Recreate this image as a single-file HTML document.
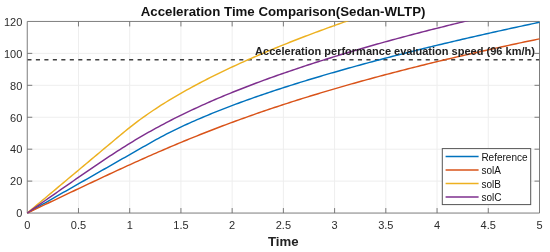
<!DOCTYPE html>
<html><head><meta charset="utf-8"><title>Acceleration Time Comparison</title>
<style>html,body{margin:0;padding:0;background:#fff;}body{width:550px;height:252px;overflow:hidden;}svg{display:block;}text{font-family:"Liberation Sans", Arial, Helvetica, sans-serif;}</style></head><body>
<svg width="550" height="252" viewBox="0 0 550 252">
<rect x="0" y="0" width="550" height="252" fill="#ffffff"/>
<path d="M78.47 21.45 V213.05 M129.70 21.45 V213.05 M180.93 21.45 V213.05 M232.15 21.45 V213.05 M283.38 21.45 V213.05 M334.60 21.45 V213.05 M385.82 21.45 V213.05 M437.05 21.45 V213.05 M488.27 21.45 V213.05 M27.25 181.12 H539.50 M27.25 149.18 H539.50 M27.25 117.25 H539.50 M27.25 85.32 H539.50 M27.25 53.38 H539.50" stroke="#eeeeee" stroke-width="1" fill="none"/>
<defs><clipPath id="c"><rect x="26.95" y="21.30" width="513.15" height="192.35"/></clipPath></defs>
<path d="M27.40 59.77 H539.50" stroke="#404040" stroke-width="1.35" stroke-dasharray="4.1 4.375" fill="none"/>
<path d="M27.25 21.45 H539.50 V213.05 H27.25 Z M78.47 213.05 v-5.00 M78.47 21.45 v5.00 M129.70 213.05 v-5.00 M129.70 21.45 v5.00 M180.93 213.05 v-5.00 M180.93 21.45 v5.00 M232.15 213.05 v-5.00 M232.15 21.45 v5.00 M283.38 213.05 v-5.00 M283.38 21.45 v5.00 M334.60 213.05 v-5.00 M334.60 21.45 v5.00 M385.82 213.05 v-5.00 M385.82 21.45 v5.00 M437.05 213.05 v-5.00 M437.05 21.45 v5.00 M488.27 213.05 v-5.00 M488.27 21.45 v5.00 M27.25 181.12 h5.00 M539.50 181.12 h-5.00 M27.25 149.18 h5.00 M539.50 149.18 h-5.00 M27.25 117.25 h5.00 M539.50 117.25 h-5.00 M27.25 85.32 h5.00 M539.50 85.32 h-5.00 M27.25 53.38 h5.00 M539.50 53.38 h-5.00" stroke="#6e6e6e" stroke-width="0.9" fill="none"/>
<g clip-path="url(#c)" fill="none" stroke-width="1.45" stroke-linejoin="round">
<path d="M27.25 213.05 L29.82 211.58 L32.40 210.11 L34.97 208.64 L37.55 207.18 L40.12 205.71 L42.69 204.24 L45.27 202.77 L47.84 201.30 L50.42 199.83 L52.99 198.37 L55.57 196.90 L58.14 195.43 L60.71 193.96 L63.29 192.49 L65.86 191.02 L68.44 189.56 L71.01 188.09 L73.58 186.62 L76.16 185.15 L78.73 183.68 L81.31 182.21 L83.88 180.75 L86.45 179.28 L89.03 177.81 L91.60 176.34 L94.18 174.87 L96.75 173.41 L99.33 171.94 L101.90 170.47 L104.47 169.00 L107.05 167.53 L109.62 166.06 L112.20 164.60 L114.77 163.13 L117.34 161.66 L119.92 160.19 L122.49 158.72 L125.07 157.26 L127.64 155.79 L130.21 154.32 L132.79 152.85 L135.36 151.38 L137.94 149.92 L140.51 148.45 L143.09 146.98 L145.66 145.51 L148.23 144.05 L150.81 142.59 L153.38 141.14 L155.96 139.71 L158.53 138.30 L161.10 136.91 L163.68 135.55 L166.25 134.22 L168.83 132.90 L171.40 131.61 L173.97 130.34 L176.55 129.09 L179.12 127.85 L181.70 126.63 L184.27 125.43 L186.85 124.25 L189.42 123.08 L191.99 121.93 L194.57 120.79 L197.14 119.67 L199.72 118.55 L202.29 117.46 L204.86 116.37 L207.44 115.30 L210.01 114.23 L212.59 113.18 L215.16 112.14 L217.73 111.12 L220.31 110.10 L222.88 109.09 L225.46 108.09 L228.03 107.10 L230.61 106.12 L233.18 105.15 L235.75 104.18 L238.33 103.23 L240.90 102.28 L243.48 101.35 L246.05 100.42 L248.62 99.49 L251.20 98.58 L253.77 97.67 L256.35 96.77 L258.92 95.88 L261.49 94.99 L264.07 94.11 L266.64 93.24 L269.22 92.37 L271.79 91.51 L274.37 90.65 L276.94 89.80 L279.51 88.96 L282.09 88.12 L284.66 87.29 L287.24 86.47 L289.81 85.64 L292.38 84.83 L294.96 84.02 L297.53 83.21 L300.11 82.41 L302.68 81.62 L305.26 80.83 L307.83 80.04 L310.40 79.26 L312.98 78.48 L315.55 77.71 L318.13 76.94 L320.70 76.18 L323.27 75.42 L325.85 74.67 L328.42 73.91 L331.00 73.17 L333.57 72.43 L336.14 71.69 L338.72 70.95 L341.29 70.22 L343.87 69.49 L346.44 68.77 L349.02 68.05 L351.59 67.33 L354.16 66.62 L356.74 65.91 L359.31 65.20 L361.89 64.50 L364.46 63.80 L367.03 63.11 L369.61 62.41 L372.18 61.73 L374.76 61.04 L377.33 60.36 L379.90 59.68 L382.48 59.00 L385.05 58.32 L387.63 57.65 L390.20 56.99 L392.78 56.32 L395.35 55.66 L397.92 55.00 L400.50 54.34 L403.07 53.69 L405.65 53.04 L408.22 52.39 L410.79 51.74 L413.37 51.10 L415.94 50.46 L418.52 49.82 L421.09 49.18 L423.66 48.55 L426.24 47.92 L428.81 47.29 L431.39 46.66 L433.96 46.04 L436.54 45.42 L439.11 44.80 L441.68 44.18 L444.26 43.57 L446.83 42.96 L449.41 42.35 L451.98 41.74 L454.55 41.14 L457.13 40.53 L459.70 39.93 L462.28 39.33 L464.85 38.74 L467.42 38.14 L470.00 37.55 L472.57 36.96 L475.15 36.37 L477.72 35.78 L480.30 35.20 L482.87 34.61 L485.44 34.03 L488.02 33.45 L490.59 32.88 L493.17 32.30 L495.74 31.73 L498.31 31.16 L500.89 30.59 L503.46 30.02 L506.04 29.45 L508.61 28.89 L511.18 28.33 L513.76 27.77 L516.33 27.21 L518.91 26.65 L521.48 26.09 L524.06 25.54 L526.63 24.99 L529.20 24.44 L531.78 23.89 L534.35 23.34 L536.93 22.79 L539.50 22.25" stroke="#0072BD"/>
<path d="M27.25 213.05 L29.82 211.82 L32.40 210.60 L34.97 209.37 L37.55 208.14 L40.12 206.92 L42.69 205.69 L45.27 204.46 L47.84 203.24 L50.42 202.01 L52.99 200.79 L55.57 199.56 L58.14 198.34 L60.71 197.11 L63.29 195.89 L65.86 194.66 L68.44 193.44 L71.01 192.22 L73.58 190.99 L76.16 189.77 L78.73 188.55 L81.31 187.33 L83.88 186.11 L86.45 184.90 L89.03 183.68 L91.60 182.47 L94.18 181.26 L96.75 180.05 L99.33 178.84 L101.90 177.63 L104.47 176.43 L107.05 175.22 L109.62 174.02 L112.20 172.83 L114.77 171.63 L117.34 170.44 L119.92 169.26 L122.49 168.07 L125.07 166.89 L127.64 165.71 L130.21 164.54 L132.79 163.37 L135.36 162.21 L137.94 161.05 L140.51 159.89 L143.09 158.74 L145.66 157.59 L148.23 156.45 L150.81 155.31 L153.38 154.18 L155.96 153.05 L158.53 151.93 L161.10 150.82 L163.68 149.71 L166.25 148.60 L168.83 147.50 L171.40 146.41 L173.97 145.32 L176.55 144.24 L179.12 143.16 L181.70 142.09 L184.27 141.03 L186.85 139.97 L189.42 138.92 L191.99 137.87 L194.57 136.83 L197.14 135.80 L199.72 134.77 L202.29 133.75 L204.86 132.73 L207.44 131.73 L210.01 130.72 L212.59 129.73 L215.16 128.74 L217.73 127.75 L220.31 126.77 L222.88 125.80 L225.46 124.83 L228.03 123.87 L230.61 122.92 L233.18 121.97 L235.75 121.03 L238.33 120.09 L240.90 119.16 L243.48 118.23 L246.05 117.31 L248.62 116.40 L251.20 115.49 L253.77 114.59 L256.35 113.69 L258.92 112.80 L261.49 111.91 L264.07 111.03 L266.64 110.16 L269.22 109.29 L271.79 108.42 L274.37 107.56 L276.94 106.71 L279.51 105.86 L282.09 105.01 L284.66 104.17 L287.24 103.34 L289.81 102.51 L292.38 101.68 L294.96 100.86 L297.53 100.05 L300.11 99.24 L302.68 98.43 L305.26 97.63 L307.83 96.83 L310.40 96.04 L312.98 95.25 L315.55 94.47 L318.13 93.69 L320.70 92.91 L323.27 92.14 L325.85 91.37 L328.42 90.61 L331.00 89.85 L333.57 89.10 L336.14 88.34 L338.72 87.60 L341.29 86.85 L343.87 86.12 L346.44 85.38 L349.02 84.65 L351.59 83.92 L354.16 83.20 L356.74 82.48 L359.31 81.76 L361.89 81.05 L364.46 80.34 L367.03 79.63 L369.61 78.93 L372.18 78.23 L374.76 77.54 L377.33 76.84 L379.90 76.16 L382.48 75.47 L385.05 74.79 L387.63 74.11 L390.20 73.43 L392.78 72.76 L395.35 72.09 L397.92 71.43 L400.50 70.76 L403.07 70.10 L405.65 69.45 L408.22 68.79 L410.79 68.14 L413.37 67.49 L415.94 66.85 L418.52 66.20 L421.09 65.57 L423.66 64.93 L426.24 64.30 L428.81 63.66 L431.39 63.04 L433.96 62.41 L436.54 61.79 L439.11 61.17 L441.68 60.55 L444.26 59.94 L446.83 59.32 L449.41 58.71 L451.98 58.11 L454.55 57.50 L457.13 56.90 L459.70 56.30 L462.28 55.70 L464.85 55.11 L467.42 54.52 L470.00 53.93 L472.57 53.34 L475.15 52.76 L477.72 52.17 L480.30 51.59 L482.87 51.02 L485.44 50.44 L488.02 49.87 L490.59 49.30 L493.17 48.73 L495.74 48.16 L498.31 47.60 L500.89 47.04 L503.46 46.48 L506.04 45.92 L508.61 45.36 L511.18 44.81 L513.76 44.26 L516.33 43.71 L518.91 43.16 L521.48 42.61 L524.06 42.07 L526.63 41.53 L529.20 40.99 L531.78 40.45 L534.35 39.92 L536.93 39.39 L539.50 38.85" stroke="#D95319"/>
<path d="M27.25 213.05 L29.82 210.89 L32.40 208.74 L34.97 206.58 L37.55 204.43 L40.12 202.27 L42.69 200.11 L45.27 197.96 L47.84 195.80 L50.42 193.65 L52.99 191.49 L55.57 189.33 L58.14 187.18 L60.71 185.02 L63.29 182.87 L65.86 180.71 L68.44 178.56 L71.01 176.40 L73.58 174.25 L76.16 172.09 L78.73 169.94 L81.31 167.78 L83.88 165.63 L86.45 163.47 L89.03 161.32 L91.60 159.17 L94.18 157.01 L96.75 154.86 L99.33 152.70 L101.90 150.55 L104.47 148.40 L107.05 146.25 L109.62 144.09 L112.20 141.94 L114.77 139.79 L117.34 137.64 L119.92 135.50 L122.49 133.37 L125.07 131.25 L127.64 129.16 L130.21 127.10 L132.79 125.08 L135.36 123.10 L137.94 121.15 L140.51 119.25 L143.09 117.38 L145.66 115.55 L148.23 113.76 L150.81 111.99 L153.38 110.26 L155.96 108.56 L158.53 106.88 L161.10 105.23 L163.68 103.60 L166.25 102.00 L168.83 100.42 L171.40 98.87 L173.97 97.33 L176.55 95.82 L179.12 94.33 L181.70 92.85 L184.27 91.39 L186.85 89.95 L189.42 88.53 L191.99 87.13 L194.57 85.74 L197.14 84.36 L199.72 83.00 L202.29 81.66 L204.86 80.32 L207.44 79.01 L210.01 77.70 L212.59 76.41 L215.16 75.13 L217.73 73.86 L220.31 72.61 L222.88 71.36 L225.46 70.13 L228.03 68.91 L230.61 67.70 L233.18 66.50 L235.75 65.31 L238.33 64.13 L240.90 62.96 L243.48 61.79 L246.05 60.64 L248.62 59.50 L251.20 58.36 L253.77 57.24 L256.35 56.12 L258.92 55.01 L261.49 53.91 L264.07 52.82 L266.64 51.73 L269.22 50.65 L271.79 49.58 L274.37 48.52 L276.94 47.47 L279.51 46.42 L282.09 45.38 L284.66 44.34 L287.24 43.31 L289.81 42.29 L292.38 41.27 L294.96 40.27 L297.53 39.26 L300.11 38.27 L302.68 37.28 L305.26 36.29 L307.83 35.31 L310.40 34.34 L312.98 33.37 L315.55 32.41 L318.13 31.45 L320.70 30.50 L323.27 29.56 L325.85 28.62 L328.42 27.68 L331.00 26.75 L333.57 25.83 L336.14 24.91 L338.72 23.99 L341.29 23.08 L343.87 22.17 L346.44 21.27 L349.02 20.38 L351.59 19.48 L354.16 18.60 L356.74 17.71 L359.31 16.83 L361.89 15.96 L364.46 15.09 L367.03 14.22 L369.61 13.36 L372.18 12.50 L374.76 11.65 L377.33 10.80 L379.90 9.95 L382.48 9.11 L385.05 8.27 L387.63 7.43 L390.20 6.60 L392.78 5.78 L395.35 4.95 L397.92 4.13 L400.50 3.32 L403.07 2.50 L405.65 1.69 L408.22 0.89 L410.79 0.09 L413.37 -0.71 L415.94 -1.51 L418.52 -2.30 L421.09 -3.09 L423.66 -3.88 L426.24 -4.66 L428.81 -5.44 L431.39 -6.22 L433.96 -6.99 L436.54 -7.76 L439.11 -8.53 L441.68 -9.29 L444.26 -10.05 L446.83 -10.81 L449.41 -11.57 L451.98 -12.32 L454.55 -13.07 L457.13 -13.82 L459.70 -14.56 L462.28 -15.30 L464.85 -16.04 L467.42 -16.78 L470.00 -17.51 L472.57 -18.24 L475.15 -18.97 L477.72 -19.69 L480.30 -20.41 L482.87 -21.13 L485.44 -21.85 L488.02 -22.57 L490.59 -23.28 L493.17 -23.99 L495.74 -24.69 L498.31 -25.40 L500.89 -26.10 L503.46 -26.80 L506.04 -27.50 L508.61 -28.19 L511.18 -28.89 L513.76 -29.58 L516.33 -30.27 L518.91 -30.95 L521.48 -31.64 L524.06 -32.32 L526.63 -33.00 L529.20 -33.67 L531.78 -34.35 L534.35 -35.02 L536.93 -35.69 L539.50 -36.36" stroke="#EDB120"/>
<path d="M27.25 213.05 L29.82 211.25 L32.40 209.46 L34.97 207.66 L37.55 205.86 L40.12 204.07 L42.69 202.27 L45.27 200.48 L47.84 198.68 L50.42 196.88 L52.99 195.09 L55.57 193.29 L58.14 191.50 L60.71 189.70 L63.29 187.91 L65.86 186.12 L68.44 184.33 L71.01 182.54 L73.58 180.75 L76.16 178.96 L78.73 177.18 L81.31 175.40 L83.88 173.62 L86.45 171.85 L89.03 170.08 L91.60 168.32 L94.18 166.57 L96.75 164.82 L99.33 163.08 L101.90 161.35 L104.47 159.62 L107.05 157.91 L109.62 156.21 L112.20 154.52 L114.77 152.85 L117.34 151.19 L119.92 149.54 L122.49 147.91 L125.07 146.29 L127.64 144.69 L130.21 143.10 L132.79 141.53 L135.36 139.98 L137.94 138.45 L140.51 136.93 L143.09 135.43 L145.66 133.94 L148.23 132.47 L150.81 131.02 L153.38 129.59 L155.96 128.17 L158.53 126.77 L161.10 125.39 L163.68 124.02 L166.25 122.66 L168.83 121.33 L171.40 120.00 L173.97 118.69 L176.55 117.40 L179.12 116.12 L181.70 114.85 L184.27 113.60 L186.85 112.36 L189.42 111.14 L191.99 109.92 L194.57 108.72 L197.14 107.54 L199.72 106.36 L202.29 105.19 L204.86 104.04 L207.44 102.90 L210.01 101.77 L212.59 100.65 L215.16 99.54 L217.73 98.44 L220.31 97.35 L222.88 96.27 L225.46 95.20 L228.03 94.14 L230.61 93.09 L233.18 92.04 L235.75 91.01 L238.33 89.98 L240.90 88.97 L243.48 87.96 L246.05 86.96 L248.62 85.97 L251.20 84.98 L253.77 84.01 L256.35 83.04 L258.92 82.08 L261.49 81.12 L264.07 80.18 L266.64 79.24 L269.22 78.30 L271.79 77.38 L274.37 76.46 L276.94 75.54 L279.51 74.64 L282.09 73.73 L284.66 72.84 L287.24 71.95 L289.81 71.07 L292.38 70.19 L294.96 69.32 L297.53 68.46 L300.11 67.60 L302.68 66.74 L305.26 65.90 L307.83 65.05 L310.40 64.22 L312.98 63.38 L315.55 62.56 L318.13 61.73 L320.70 60.92 L323.27 60.10 L325.85 59.30 L328.42 58.49 L331.00 57.70 L333.57 56.90 L336.14 56.11 L338.72 55.33 L341.29 54.55 L343.87 53.77 L346.44 53.00 L349.02 52.24 L351.59 51.47 L354.16 50.71 L356.74 49.96 L359.31 49.21 L361.89 48.46 L364.46 47.72 L367.03 46.98 L369.61 46.25 L372.18 45.52 L374.76 44.79 L377.33 44.07 L379.90 43.35 L382.48 42.63 L385.05 41.92 L387.63 41.21 L390.20 40.50 L392.78 39.80 L395.35 39.10 L397.92 38.41 L400.50 37.72 L403.07 37.03 L405.65 36.34 L408.22 35.66 L410.79 34.98 L413.37 34.31 L415.94 33.64 L418.52 32.97 L421.09 32.30 L423.66 31.64 L426.24 30.98 L428.81 30.32 L431.39 29.67 L433.96 29.02 L436.54 28.37 L439.11 27.72 L441.68 27.08 L444.26 26.44 L446.83 25.80 L449.41 25.17 L451.98 24.54 L454.55 23.91 L457.13 23.29 L459.70 22.66 L462.28 22.04 L464.85 21.42 L467.42 20.81 L470.00 20.20 L472.57 19.59 L475.15 18.98 L477.72 18.37 L480.30 17.77 L482.87 17.17 L485.44 16.57 L488.02 15.98 L490.59 15.39 L493.17 14.80 L495.74 14.21 L498.31 13.62 L500.89 13.04 L503.46 12.46 L506.04 11.88 L508.61 11.30 L511.18 10.73 L513.76 10.16 L516.33 9.59 L518.91 9.02 L521.48 8.45 L524.06 7.89 L526.63 7.33 L529.20 6.77 L531.78 6.21 L534.35 5.66 L536.93 5.11 L539.50 4.56" stroke="#7E2F8E"/>
</g>
<g font-size="11" fill="#2c2c2c">
<text x="27.25" y="229.3" text-anchor="middle">0</text>
<text x="78.47" y="229.3" text-anchor="middle">0.5</text>
<text x="129.70" y="229.3" text-anchor="middle">1</text>
<text x="180.93" y="229.3" text-anchor="middle">1.5</text>
<text x="232.15" y="229.3" text-anchor="middle">2</text>
<text x="283.38" y="229.3" text-anchor="middle">2.5</text>
<text x="334.60" y="229.3" text-anchor="middle">3</text>
<text x="385.82" y="229.3" text-anchor="middle">3.5</text>
<text x="437.05" y="229.3" text-anchor="middle">4</text>
<text x="488.27" y="229.3" text-anchor="middle">4.5</text>
<text x="539.50" y="229.3" text-anchor="middle">5</text>
<text x="22.3" y="217.35" text-anchor="end">0</text>
<text x="22.3" y="185.42" text-anchor="end">20</text>
<text x="22.3" y="153.48" text-anchor="end">40</text>
<text x="22.3" y="121.55" text-anchor="end">60</text>
<text x="22.3" y="89.62" text-anchor="end">80</text>
<text x="22.3" y="57.68" text-anchor="end">100</text>
<text x="22.3" y="25.75" text-anchor="end">120</text>
</g>
<text x="283.1" y="16.2" font-size="13.28" font-weight="bold" text-anchor="middle" fill="#111">Acceleration Time Comparison(Sedan-WLTP)</text>
<text x="283.3" y="246" font-size="13.2" font-weight="bold" text-anchor="middle" fill="#222">Time</text>
<text x="534.9" y="54.5" font-size="11.03" font-weight="bold" text-anchor="end" fill="#222">Acceleration performance evaluation speed (96 km/h)</text>
<rect x="442.30" y="148.60" width="88.40" height="56.00" fill="#fff" stroke="#555" stroke-width="1"/>
<path d="M445.6 156.40 H478.6" stroke="#0072BD" stroke-width="1.5"/>
<text x="481.4" y="160.50" font-size="10" fill="#111">Reference</text>
<path d="M445.6 169.93 H478.6" stroke="#D95319" stroke-width="1.5"/>
<text x="481.4" y="174.03" font-size="10" fill="#111">solA</text>
<path d="M445.6 183.46 H478.6" stroke="#EDB120" stroke-width="1.5"/>
<text x="481.4" y="187.56" font-size="10" fill="#111">solB</text>
<path d="M445.6 196.99 H478.6" stroke="#7E2F8E" stroke-width="1.5"/>
<text x="481.4" y="201.09" font-size="10" fill="#111">solC</text>
</svg></body></html>
